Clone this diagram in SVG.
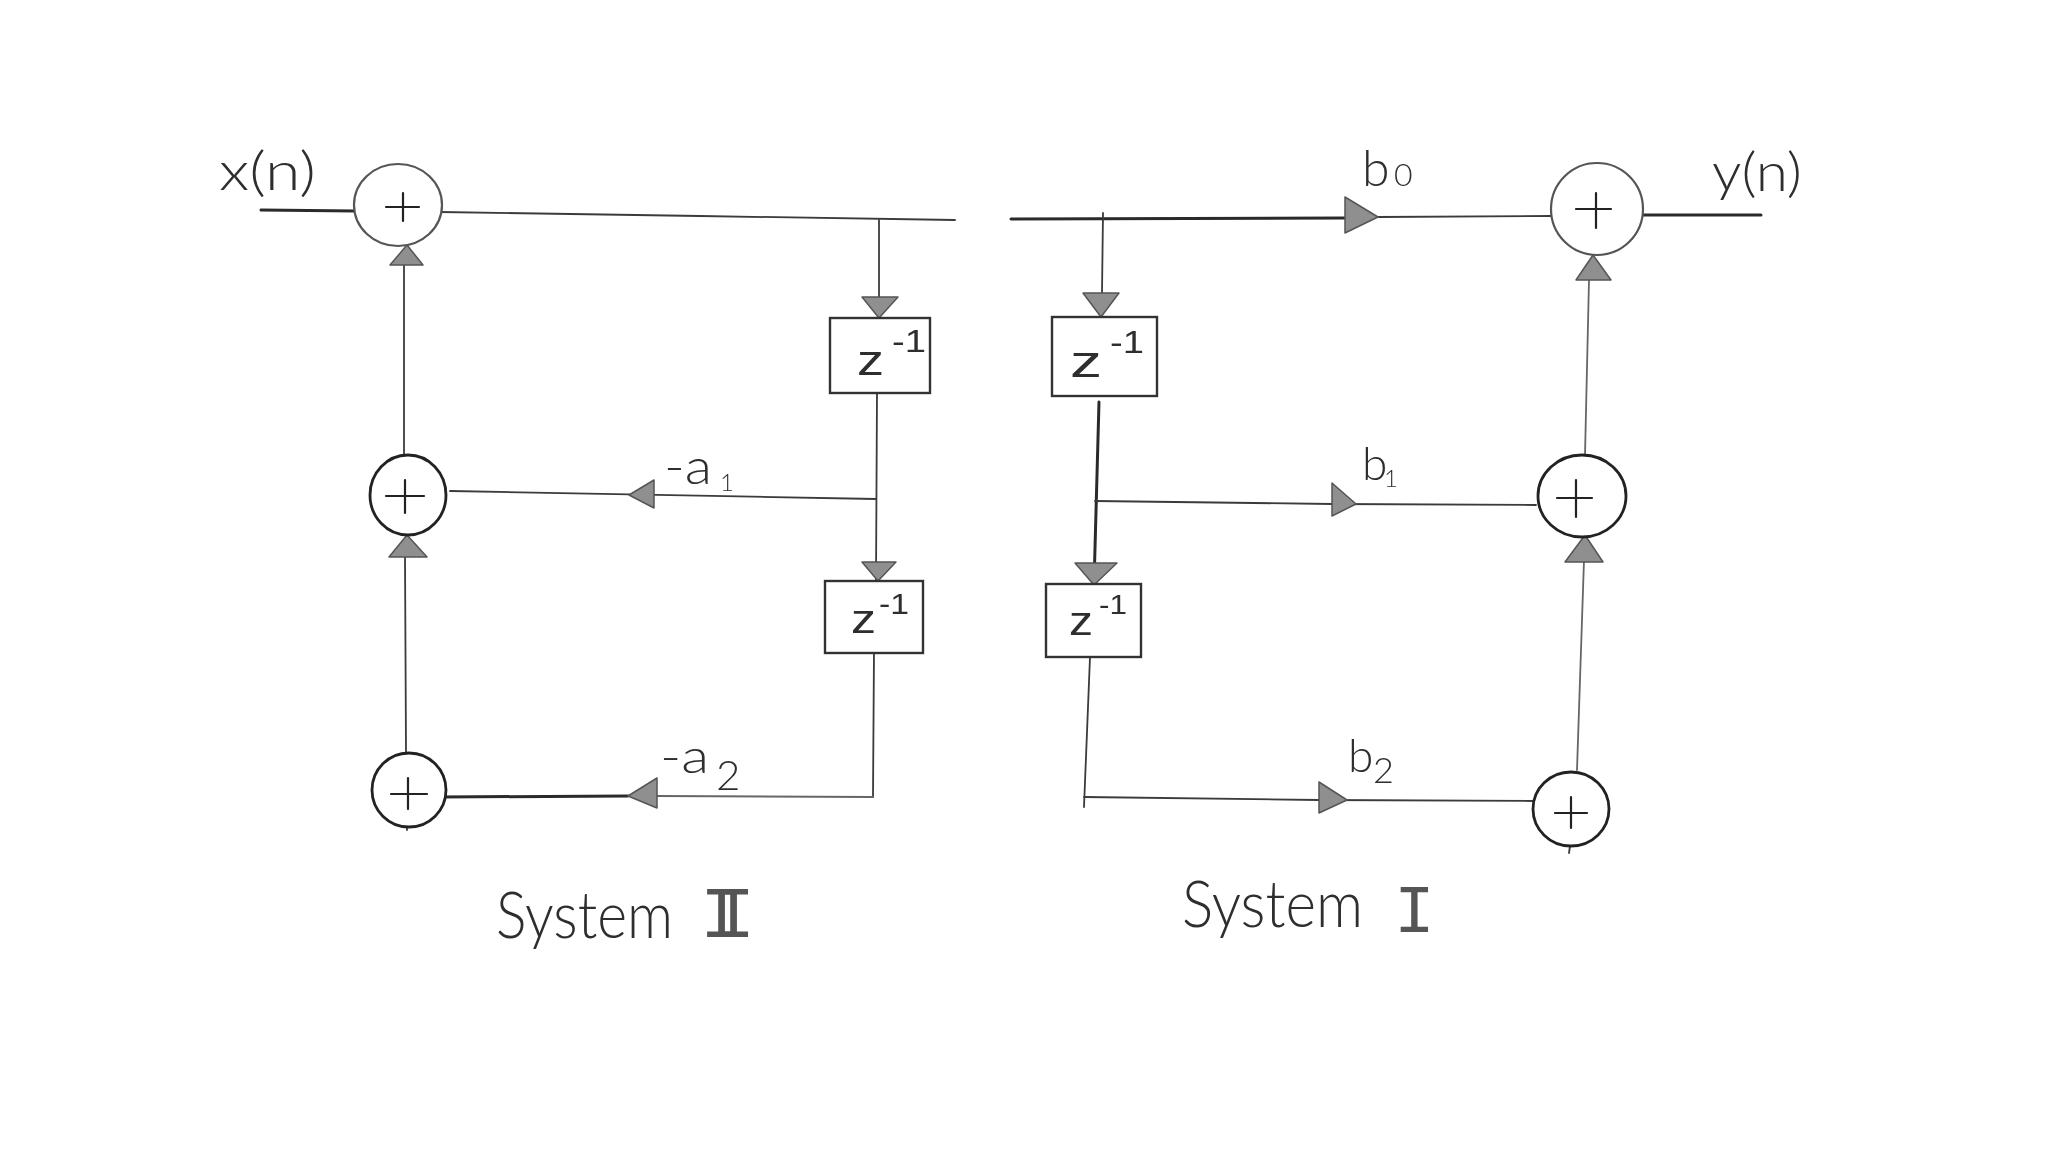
<svg xmlns="http://www.w3.org/2000/svg" width="2048" height="1152" viewBox="0 0 2048 1152">
<style>
.w{fill:none;stroke:#3a3a3a;stroke-width:1.8;stroke-linecap:round}
.t{fill:none;stroke:#2a2a2a;stroke-width:3;stroke-linecap:round}
.l{fill:none;stroke:#666;stroke-width:1.8;stroke-linecap:round}
.a{fill:#8f8f8f;stroke:#555;stroke-width:1.5;stroke-linejoin:round}
.c{fill:#fff;stroke:#555;stroke-width:2.2}
.d{fill:#fff;stroke:#222;stroke-width:2.8}
.b{fill:#fff;stroke:#333;stroke-width:2.4}
.p{fill:none;stroke:#222;stroke-width:2.2;stroke-linecap:round}
text{font-family:"Lato","Open Sans","Liberation Sans",sans-serif;font-weight:300;fill:#2e2e2e}
.z{font-family:"Liberation Sans",sans-serif;font-weight:400}
text.r{font-family:"Liberation Mono",monospace;font-weight:400;fill:#555}
</style>
<defs><filter id="soft" x="0" y="0" width="100%" height="100%"><feGaussianBlur stdDeviation="0.5"/></filter></defs>
<rect width="2048" height="1152" fill="#fff"/>
<g filter="url(#soft)">
<g id="connectors">
<path class="t" d="M261 210L355 211"/>
<path class="w" d="M440 212L700 216L955 220"/>
<path class="w" d="M879 220L879 297"/>
<path class="w" d="M877 393L876 581"/>
<path class="w" d="M450 491L876 499"/>
<path class="w" d="M874 650L873 797"/>
<path class="t" d="M440 797L628 796"/>
<path class="l" d="M657 796L873 797"/>
<path class="w" d="M404 265L404 457"/>
<path class="w" d="M405 557L406 752"/>
<path class="t" d="M1011 219L1345 218"/>
<path class="w" d="M1378 217L1552 216"/>
<path class="t" d="M1635 215L1761 215"/>
<path class="w" d="M1103 213L1102 293"/>
<path class="t" d="M1099 402L1094 585"/>
<path class="w" d="M1095 501L1332 504L1536 505"/>
<path class="w" d="M1090 657L1084 807"/>
<path class="w" d="M1084 797L1319 800L1534 801"/>
<path class="l" d="M1589 280L1585 455"/>
<path class="l" d="M1584 560L1577 770"/>
<polygon class="a" points="407,245 390,265 423,265"/>
<polygon class="a" points="407,535 389,557 427,557"/>
<polygon class="a" points="879,318 862,297 898,297"/>
<polygon class="a" points="878,581 862,562 896,562"/>
<polygon class="a" points="629,495 654,480 654,508"/>
<polygon class="a" points="628,796 657,778 657,808"/>
<polygon class="a" points="1593,255 1576,280 1611,280"/>
<polygon class="a" points="1585,535 1565,562 1603,562"/>
<polygon class="a" points="1101,317 1083,293 1119,293"/>
<polygon class="a" points="1094,585 1075,563 1117,563"/>
<polygon class="a" points="1378,217 1345,197 1345,233"/>
<polygon class="a" points="1356,504 1332,483 1332,516"/>
<polygon class="a" points="1347,800 1319,782 1319,813"/>
<path class="w" d="M407 830L407 826"/>
<path class="w" d="M1570 846L1569 853"/>
</g>
<g id="adder-l1"><ellipse class="c" cx="398" cy="205" rx="44" ry="41"/><path class="p" d="M386 207H419M403 193V221"/></g>
<g id="adder-l2"><ellipse class="d" cx="408" cy="495" rx="38" ry="40"/><path class="p" d="M386 496H424M405 480V513"/></g>
<g id="adder-l3"><ellipse class="d" cx="409" cy="790" rx="37" ry="37"/><path class="p" d="M391 794H427M408 778V809"/></g>
<g id="adder-r1"><ellipse class="c" cx="1597" cy="209" rx="46" ry="46"/><path class="p" d="M1576 209H1611M1596 193V228"/></g>
<g id="adder-r2"><ellipse class="d" cx="1582" cy="496" rx="44" ry="41"/><path class="p" d="M1557 498H1592M1576 480V517"/></g>
<g id="adder-r3"><ellipse class="d" cx="1571" cy="809" rx="38" ry="37"/><path class="p" d="M1555 813H1587M1571 797V828"/></g>
<g id="delay-l1"><rect class="b" x="830" y="318" width="100" height="75"/><text class="z" x="857" y="375" font-size="42" textLength="27" lengthAdjust="spacingAndGlyphs">z</text><text class="z" x="892" y="352" font-size="32" textLength="34" lengthAdjust="spacingAndGlyphs">-1</text></g>
<g id="delay-l2"><rect class="b" x="825" y="581" width="98" height="72"/><text class="z" x="851" y="633" font-size="40" textLength="25" lengthAdjust="spacingAndGlyphs">z</text><text class="z" x="879" y="614" font-size="30" textLength="30" lengthAdjust="spacingAndGlyphs">-1</text></g>
<g id="delay-r1"><rect class="b" x="1052" y="317" width="105" height="79"/><text class="z" x="1070" y="377" font-size="44" textLength="32" lengthAdjust="spacingAndGlyphs">z</text><text class="z" x="1110" y="353" font-size="32" textLength="34" lengthAdjust="spacingAndGlyphs">-1</text></g>
<g id="delay-r2"><rect class="b" x="1046" y="584" width="95" height="73"/><text class="z" x="1069" y="635" font-size="40" textLength="24" lengthAdjust="spacingAndGlyphs">z</text><text class="z" x="1099" y="614" font-size="28" textLength="28" lengthAdjust="spacingAndGlyphs">-1</text></g>
<g id="labels">
<text x="219" y="190" font-size="54" textLength="97" lengthAdjust="spacingAndGlyphs">x(n)</text>
<text x="1712" y="191" font-size="54" textLength="90" lengthAdjust="spacingAndGlyphs">y(n)</text>
<text x="664" y="484" font-size="50" textLength="48" lengthAdjust="spacingAndGlyphs">-a</text>
<text x="720" y="491" font-size="24">1</text>
<text x="660" y="773" font-size="48" textLength="49" lengthAdjust="spacingAndGlyphs">-a</text>
<text x="716" y="790" font-size="42">2</text>
<text x="1362" y="186" font-size="50">b<tspan x="1394" font-size="32">0</tspan></text>
<text x="1362" y="480" font-size="46">b<tspan x="1384" y="487" font-size="24">1</tspan></text>
<text x="1348" y="772" font-size="46">b<tspan x="1373" y="783" font-size="36">2</tspan></text>
<text x="496" y="938" font-size="66" textLength="177" lengthAdjust="spacingAndGlyphs">System</text>
<text class="r" x="700 712" y="937" font-size="72">II</text>
<text x="1182" y="927" font-size="66" textLength="181" lengthAdjust="spacingAndGlyphs">System</text>
<text class="r" x="1394" y="932" font-size="68">I</text>
</g>
</g>
</svg>
